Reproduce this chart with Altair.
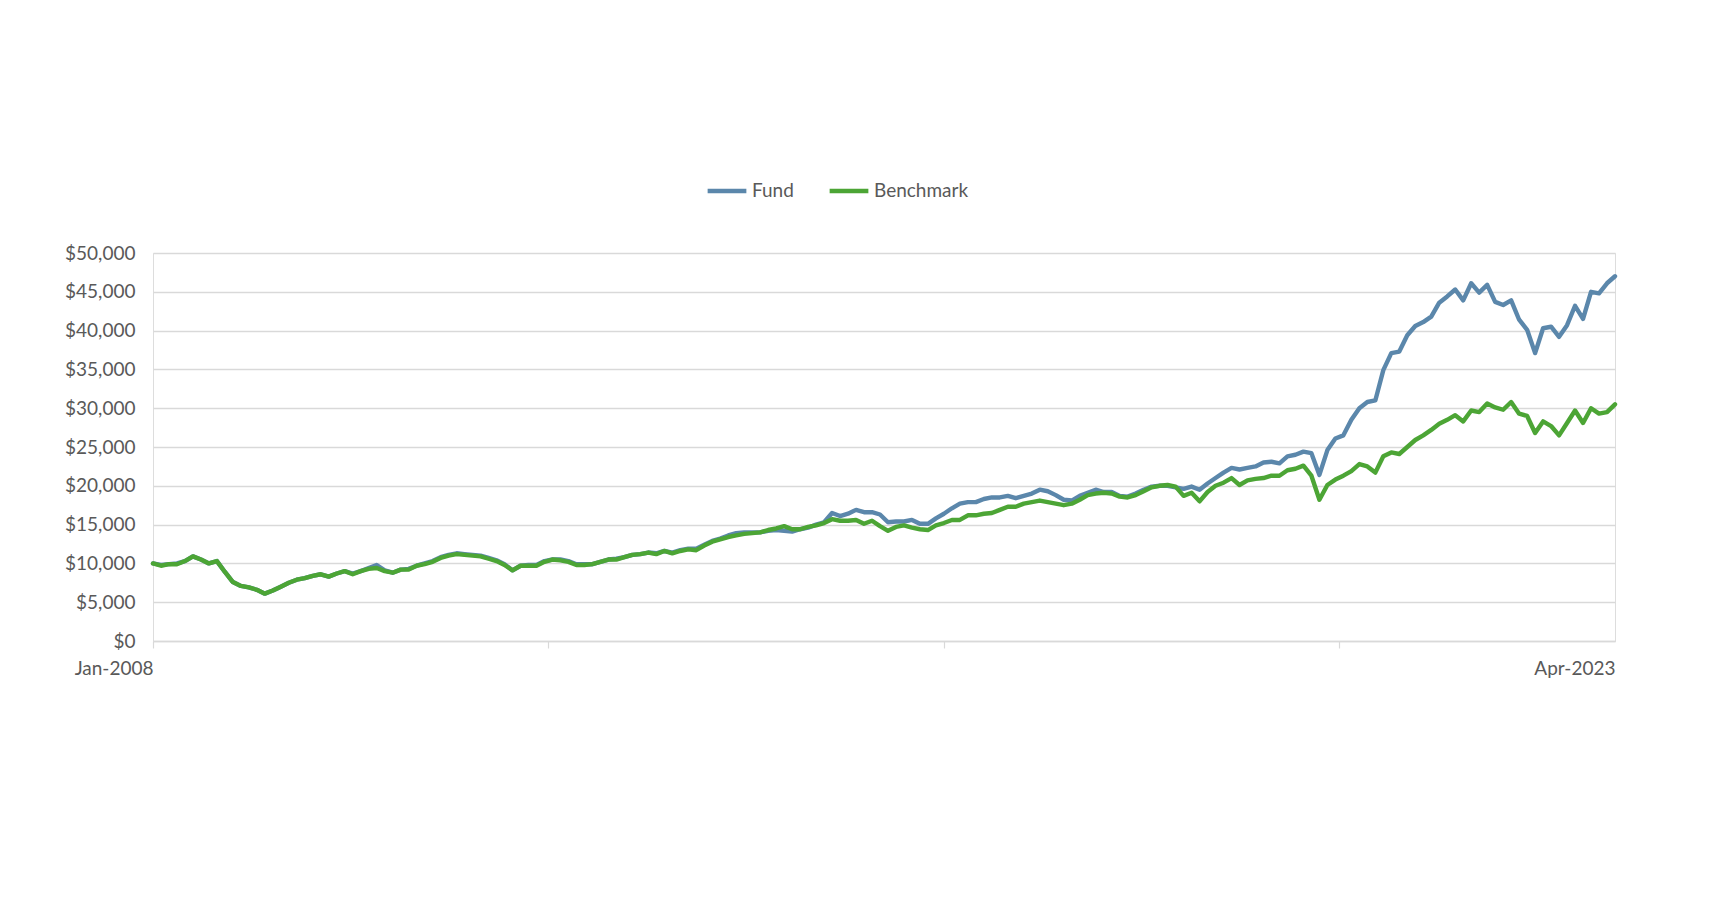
import altair as alt
import pandas as pd

# Growth of $10,000, monthly Jan-2008 .. Apr-2023 (values in $ thousands)
series_names = ["Fund", "Benchmark"]
x_labels = ["Jan-2008", "Apr-2023"]

fund_k = [
    10.0, 9.8, 9.9, 10.0, 10.3, 10.9, 10.5, 10.0, 10.3, 8.9,
    7.6, 7.1, 6.9, 6.6, 6.1, 6.5, 7.0, 7.5, 7.9, 8.1,
    8.4, 8.6, 8.3, 8.7, 9.0, 8.7, 9.0, 9.4, 9.8, 9.1,
    8.8, 9.2, 9.3, 9.7, 10.0, 10.3, 10.8, 11.1, 11.3, 11.2,
    11.1, 11.0, 10.7, 10.4, 9.9, 9.1, 9.7, 9.8, 9.8, 10.3,
    10.5, 10.5, 10.3, 9.9, 9.9, 9.9, 10.2, 10.5, 10.6, 10.8,
    11.1, 11.2, 11.4, 11.3, 11.6, 11.4, 11.7, 11.9, 11.9, 12.4,
    12.9, 13.2, 13.6, 13.9, 14.0, 14.0, 14.0, 14.2, 14.3, 14.2,
    14.1, 14.4, 14.6, 15.0, 15.3, 16.5, 16.1, 16.4, 16.9, 16.6,
    16.6, 16.3, 15.3, 15.4, 15.4, 15.6, 15.1, 15.1, 15.8, 16.4,
    17.1, 17.7, 17.9, 17.9, 18.3, 18.5, 18.5, 18.7, 18.4, 18.7,
    19.0, 19.5, 19.3, 18.8, 18.2, 18.1, 18.7, 19.1, 19.5, 19.2,
    19.2, 18.7, 18.6, 19.0, 19.5, 19.9, 20.0, 20.0, 19.8, 19.6,
    19.9, 19.5, 20.3, 21.0, 21.7, 22.3, 22.1, 22.3, 22.5, 23.0,
    23.1, 22.9, 23.8, 24.0, 24.4, 24.2, 21.4, 24.6, 26.1, 26.5,
    28.5, 30.0, 30.8, 31.0, 34.9, 37.1, 37.3, 39.4, 40.6, 41.1,
    41.8, 43.6, 44.4, 45.3, 43.9, 46.1, 44.9, 45.9, 43.7, 43.3,
    43.9, 41.4, 40.1, 37.1, 40.3, 40.5, 39.2, 40.7, 43.2, 41.5,
    45.0, 44.8, 46.1, 47.0,
]

bench_k = [
    10.0, 9.7, 9.9, 9.9, 10.3, 10.9, 10.5, 10.0, 10.3, 8.9,
    7.6, 7.1, 6.9, 6.6, 6.1, 6.5, 7.0, 7.5, 7.9, 8.1,
    8.4, 8.6, 8.3, 8.7, 9.0, 8.6, 9.0, 9.3, 9.4, 9.0,
    8.8, 9.2, 9.2, 9.7, 9.9, 10.2, 10.7, 11.0, 11.2, 11.1,
    11.0, 10.9, 10.6, 10.3, 9.8, 9.1, 9.7, 9.7, 9.7, 10.2,
    10.5, 10.4, 10.2, 9.8, 9.8, 9.9, 10.2, 10.5, 10.5, 10.8,
    11.1, 11.2, 11.4, 11.2, 11.6, 11.3, 11.6, 11.8, 11.7, 12.3,
    12.8, 13.1, 13.4, 13.6, 13.8, 13.9, 14.0, 14.3, 14.5, 14.8,
    14.4, 14.4, 14.7, 14.9, 15.2, 15.7, 15.5, 15.5, 15.6, 15.1,
    15.5, 14.8, 14.2, 14.7, 14.9, 14.6, 14.4, 14.3, 14.9, 15.2,
    15.6, 15.6, 16.2, 16.2, 16.4, 16.5, 16.9, 17.3, 17.3, 17.7,
    17.9, 18.1, 17.9, 17.7, 17.5, 17.7, 18.2, 18.8, 19.0, 19.1,
    19.0, 18.6, 18.5, 18.8, 19.3, 19.8, 20.0, 20.1, 19.9, 18.7,
    19.1, 18.0, 19.2, 20.0, 20.4, 21.0, 20.1, 20.7, 20.9, 21.0,
    21.3, 21.3, 22.0, 22.2, 22.6, 21.3, 18.2, 20.1, 20.8, 21.3,
    21.9, 22.8, 22.5, 21.7, 23.8, 24.3, 24.1, 25.0, 25.9, 26.5,
    27.2, 28.0, 28.5, 29.1, 28.3, 29.7, 29.5, 30.6, 30.1, 29.8,
    30.8, 29.3, 29.0, 26.8, 28.3, 27.7, 26.5, 28.1, 29.7, 28.1,
    30.0, 29.3, 29.5, 30.5,
]

n = len(fund_k)
last = n - 1
rows = []
for i, v in enumerate(fund_k):
    rows.append({"m": i, "series": "Fund", "value": v * 1000})
for i, v in enumerate(bench_k):
    rows.append({"m": i, "series": "Benchmark", "value": v * 1000})
df = pd.DataFrame(rows)

FONT = "Lato"
GREY = "#595959"
GRID = "#d9d9d9"
FS = 19

tick_vals = [0, 49.5, 99, 148.5, last]
label_expr = (
    f"datum.value == 0 ? '{x_labels[0]}' : "
    f"(datum.value == {last} ? '{x_labels[1]}' : '')"
)

x_enc = alt.X(
    "m:Q",
    scale=alt.Scale(domain=[0, last], nice=False, zero=False),
    axis=alt.Axis(
        values=tick_vals,
        labelExpr=label_expr,
        title=None,
        grid=False,
        domainColor=GRID,
        domainWidth=1.5,
        tickColor=GRID,
        tickWidth=1.2,
        tickSize=7,
        tickOpacity=alt.condition(f"datum.value == {last}", alt.value(0), alt.value(1)),
        labelAlign="right",
        labelPadding=11,
        labelFont=FONT,
        labelFontSize=FS,
        labelColor=GREY,
        labelOverlap=False,
        labelFlush=False,
    ),
)

y_enc = alt.Y(
    "value:Q",
    scale=alt.Scale(domain=[0, 50000], nice=False),
    axis=alt.Axis(
        values=list(range(0, 50001, 5000)),
        format="$,.0f",
        title=None,
        grid=True,
        gridColor=GRID,
        gridWidth=1.4,
        domain=False,
        ticks=False,
        labelPadding=18,
        labelFont=FONT,
        labelFontSize=FS,
        labelColor=GREY,
    ),
)

color_enc = alt.Color(
    "series:N",
    scale=alt.Scale(domain=series_names, range=["#5b87ab", "#4ca535"]),
    legend=alt.Legend(
        title=None,
        orient="none",
        direction="horizontal",
        legendX=552,
        legendY=-84,
        symbolType="stroke",
        symbolStrokeWidth=4.5,
        symbolSize=1500,
        labelFont=FONT,
        labelFontSize=FS,
        labelColor=GREY,
        labelOffset=3,
        columnPadding=26,
    ),
)

base = alt.Chart(df).mark_line(strokeWidth=4.4, strokeJoin="round", strokeCap="round")

fund_line = base.transform_filter(alt.datum.series == "Fund").encode(
    x=x_enc, y=y_enc, color=color_enc
)
bench_line = base.transform_filter(alt.datum.series == "Benchmark").encode(
    x=x_enc, y=y_enc, color=color_enc
)

chart = (
    alt.layer(fund_line, bench_line)
    .properties(
        width=1462,
        height=388,
        autosize=alt.AutoSizeParams(type="none"),
        padding={"left": 145, "top": 245, "right": 93, "bottom": 251},
    )
    .configure_view(stroke=None)
    .configure(background="white")
)

chart.save("out.html", embed_options={"renderer": "svg", "actions": False})
